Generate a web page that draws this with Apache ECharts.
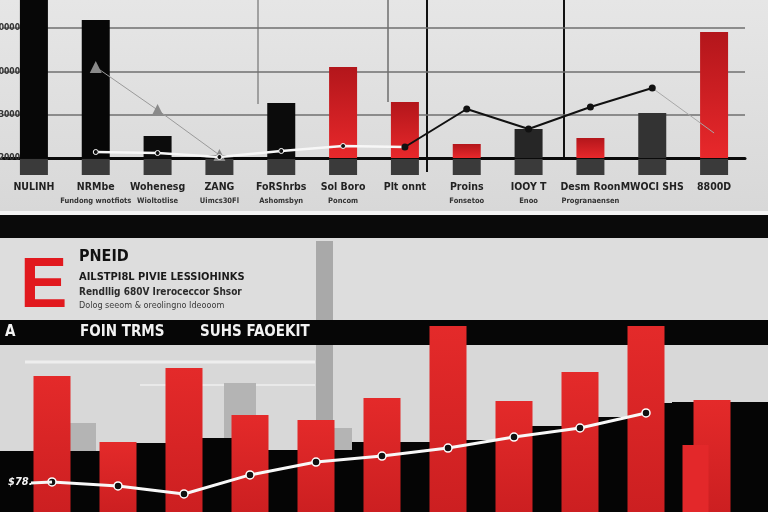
<!DOCTYPE html>
<html><head><meta charset="utf-8">
<script src="https://cdn.jsdelivr.net/npm/echarts@6/dist/echarts.min.js"></script>
<style>html,body{margin:0;padding:0;background:#dcdcdc}#c{width:768px;height:512px}</style>
</head><body><div id="c"></div>
<script>
// ---------- data ----------
const topCategories = ['NULINH','NRMbe','Wohenesg','ZANG','FoRShrbs','Sol Boro','Plt onnt','Proins','IOOY T','Desm Roon','MWOCI SHS','8800D'];
const topSubLabels  = ['', 'Fundong wnotfiots','Wioltotlise','Uimcs30Fl','Ashomsbyn','Poncom','','Fonsetoo','Enoo','Progranaensen','',''];
const topYTickLabels = ['.2000','3000','0000','0000'];
const topDarkBars = [3646, 3185, 508, 69, 1269, null, null, null, 669, null, 1038, null];
const topRedBars  = [null, null, null, null, null, 2100, 1292, 323, null, 462, null, 2908];
const topBaseBand = [1,1,1,1,1,1,1,1,1,1,1,1];
const topLine      = [null, 138, 115, 23, 162, 277, 254, 1131, 669, 1177, 1615, 577];
const topGhostLine = [null, 2100, 1108, 69, null, null, null, null, null, null, null, null];

const bottomCategories = ['C1','C2','C3','C4','C5','C6','C7','C8','C9','C10','C11'];
const bottomRedBars = [81.4, 41.9, 86.2, 58.1, 55.1, 68.3, 111.4, 66.5, 83.8, 111.4, 67.1];
const bottomHalfCategories = Array.from({length: 22}, (_, i) => 'H' + (i + 1));
const bottomShortRed = [null,null,null,null,null,null,null,null,null,null,null,null,null,null,null,null,null,null,null,null,40.1,null];
const bottomStepCategories = Array.from({length: 24}, (_, i) => 'S' + (i + 1));
const bottomBlackSteps = [36.5,36.5,36.5,36.5,41.3,41.3,44.3,44.3,37.1,37.1,37.1,41.9,41.9,41.9,43.1,43.1,51.5,51.5,56.9,56.9,65.3,65.9,65.9,65.9];
const bottomGhostBars  = [null,null,53.3,null,null,null,null,77.2,null,null,50.3,null,null,null,null,null,null,null,null,null,null,null,null,null];
const bottomLine = [18.0, 15.6, 10.8, 22.2, 29.9, 33.5, 38.3, 44.9, 50.3, 59.3, null];
const bottomStartLabel = '$78.';

const panelTitle = 'PNEID';
const panelLines = ['AILSTPI8L PIVIE LESSIOHINKS', 'Rendllig 680V Ireroceccor Shsor', 'Dolog seeom & oreolingno Ideooom'];
const bandTexts = ['A', 'FOIN TRMS', 'SUHS FAOEKIT'];

// ---------- helpers ----------
const seg = (arr, a, b) => arr.map((v, i) => (i >= a && i <= b ? v : null));
const NARROW = "'Liberation Sans Narrow','DejaVu Sans Condensed','Liberation Sans',sans-serif";
const redGrad = new echarts.graphic.LinearGradient(0, 0, 0, 1, [{offset: 0, color: '#b3161b'}, {offset: 1, color: '#e8282b'}]);
const redGrad2 = new echarts.graphic.LinearGradient(0, 0, 0, 1, [{offset: 0, color: '#e42a2a'}, {offset: 1, color: '#cc1f21'}]);
const darkShade = ['#070707','#070707','#0c0c0c','#303030','#0b0b0b','','','','#262626','','#333333',''];

const chart = echarts.init(document.getElementById('c'), null, {renderer: 'canvas'});

const bg = [
  {type:'rect', z:-10, shape:{x:0,y:0,width:768,height:211}, style:{fill: new echarts.graphic.LinearGradient(0,0,0,1,[{offset:0,color:'#e6e6e6'},{offset:1,color:'#d8d8d8'}])}},
  {type:'rect', z:-10, shape:{x:0,y:211,width:768,height:4}, style:{fill:'#f3f3f3'}},
  {type:'rect', z:-10, shape:{x:0,y:215,width:768,height:23}, style:{fill:'#0a0a0a'}},
  {type:'rect', z:-10, shape:{x:0,y:238,width:768,height:82}, style:{fill:'#dddddd'}},
  {type:'rect', z:-10, shape:{x:0,y:320,width:768,height:25}, style:{fill:'#060606'}},
  {type:'rect', z:-10, shape:{x:0,y:345,width:768,height:167}, style:{fill:'#d8d8d8'}},
  {type:'rect', z:-9, shape:{x:316,y:241,width:17,height:79}, style:{fill:'#a9a9a9'}},
  {type:'rect', z:-9, shape:{x:316,y:345,width:17,height:100}, style:{fill:'#a9a9a9'}},
  {type:'line', z:-9, shape:{x1:25,y1:362,x2:315,y2:362}, style:{stroke:'#eeeeee', lineWidth:3}},
  {type:'line', z:-9, shape:{x1:140,y1:385,x2:315,y2:385}, style:{stroke:'#e9e9e9', lineWidth:2}},
  {type:'line', z:-5, shape:{x1:258,y1:0,x2:258,y2:104}, style:{stroke:'#8a8a8a', lineWidth:1.5}},
  {type:'line', z:-5, shape:{x1:388,y1:0,x2:388,y2:102}, style:{stroke:'#6e6e6e', lineWidth:1.5}},
  {type:'line', z:-5, shape:{x1:427,y1:0,x2:427,y2:172}, style:{stroke:'#111', lineWidth:2}},
  {type:'line', z:-5, shape:{x1:564,y1:0,x2:564,y2:160}, style:{stroke:'#111', lineWidth:2}},
  {type:'text', z:10, x:20, y:252, style:{text:'E', fill:'#e1191e', font:"bold 71px 'Liberation Sans',Arial,sans-serif"}},
  {type:'text', z:10, x:79, y:249, style:{text:panelTitle, fill:'#111', font:"bold 16px " + NARROW}},
  {type:'text', z:10, x:79, y:272, style:{text:panelLines[0], fill:'#1a1a1a', font:"bold 11px " + NARROW}},
  {type:'text', z:10, x:79, y:287, style:{text:panelLines[1], fill:'#2a2a2a', font:"bold 10px " + NARROW}},
  {type:'text', z:10, x:79, y:301, style:{text:panelLines[2], fill:'#3a3a3a', font:"9px " + NARROW}},
  {type:'text', z:10, x:5, y:325, style:{text:bandTexts[0], fill:'#f2f2f2', font:"bold 15px " + NARROW}},
  {type:'text', z:10, x:80, y:325, style:{text:bandTexts[1], fill:'#f2f2f2', font:"bold 15px " + NARROW}},
  {type:'text', z:10, x:200, y:325, style:{text:bandTexts[2], fill:'#f2f2f2', font:"bold 15px " + NARROW}},
  {type:'text', z:10, x:8, y:477, style:{text:bottomStartLabel, fill:'#f5f5f5', font:"italic bold 11px " + NARROW}},
  {type:'line', z:9, shape:{x1:31,y1:483,x2:52,y2:482}, style:{stroke:'#f7f7f7', lineWidth:3}}
];

const option = {
  animation: false,
  backgroundColor: '#dcdcdc',
  graphic: bg,
  grid: [
    {left: 3, right: 23, top: 28, height: 130, outerBoundsMode: 'none', containLabel: false},
    {left: 3, right: 23, top: 159, height: 16, outerBoundsMode: 'none', containLabel: false},
    {left: 19, right: 23, top: 345, bottom: 0, outerBoundsMode: 'none', containLabel: false},
    {left: 0, right: 0, top: 345, bottom: 0, outerBoundsMode: 'none', containLabel: false}
  ],
  xAxis: [
    {type:'category', gridIndex:0, data: topCategories, axisLine:{show:true, lineStyle:{color:'#0a0a0a', width:3}}, axisTick:{show:false}, axisLabel:{show:false}},
    {type:'category', gridIndex:1, data: topCategories, axisLine:{show:false}, axisTick:{show:false},
      axisLabel:{margin: 5, interval: 0, hideOverlap: false,
        formatter: (v, i) => '{a|' + v + '}' + (topSubLabels[i] ? '\n{b|' + topSubLabels[i] + '}' : '\n{b| }'),
        rich: {a:{fontSize: 10.5, fontWeight:'bold', color:'#222', fontFamily: NARROW, lineHeight: 15},
               b:{fontSize: 7.5, fontWeight:'bold', color:'#333', fontFamily: NARROW, lineHeight: 13}}}},
    {type:'category', gridIndex:2, data: bottomCategories, show:false},
    {type:'category', gridIndex:2, data: bottomHalfCategories, show:false},
    {type:'category', gridIndex:3, data: bottomStepCategories, show:false}
  ],
  yAxis: [
    {type:'value', gridIndex:0, min:0, max:3000, interval:1000, axisLine:{show:false}, axisTick:{show:false},
      splitLine:{lineStyle:{color:'#6f6f6f', width:1.5}},
      axisLabel:{margin:-17, fontSize:8.5, fontWeight:'bold', color:'#333', fontFamily: NARROW,
        formatter: v => topYTickLabels[Math.round(v / 1000)]}},
    {type:'value', gridIndex:1, min:0, max:1, inverse:true, show:false},
    {type:'value', gridIndex:2, min:0, max:100, show:false},
    {type:'value', gridIndex:3, min:0, max:100, show:false}
  ],
  series: [
    {type:'bar', xAxisIndex:0, yAxisIndex:0, data: topDarkBars, barWidth: 28, barGap:'-100%', clip:false, z:2,
      itemStyle:{color: p => darkShade[p.dataIndex] || '#111'}},
    {type:'bar', xAxisIndex:0, yAxisIndex:0, data: topRedBars, barWidth: 28, barGap:'-100%', clip:false, z:2,
      itemStyle:{color: redGrad}},
    {type:'bar', xAxisIndex:1, yAxisIndex:1, data: topBaseBand, barWidth: 28, z:2, itemStyle:{color:'#3a3a3a'}},
    {type:'line', xAxisIndex:0, yAxisIndex:0, data: topGhostLine, clip:false, z:3, symbol:'triangle', symbolSize:12,
      lineStyle:{color:'#9a9a9a', width:1}, itemStyle:{color:'#8a8a8a'}},
    {type:'line', xAxisIndex:0, yAxisIndex:0, data: seg(topLine, 1, 6), z:4, symbol:'circle', symbolSize:5,
      lineStyle:{color:'#f7f7f7', width:2.5}, itemStyle:{color:'#111', borderColor:'#fff', borderWidth:1}},
    {type:'line', xAxisIndex:0, yAxisIndex:0, data: seg(topLine, 6, 10), z:4, symbol:'circle', symbolSize:7,
      lineStyle:{color:'#111', width:2}, itemStyle:{color:'#111'}},
    {type:'line', xAxisIndex:0, yAxisIndex:0, data: seg(topLine, 10, 11), z:3, symbol:'none',
      lineStyle:{color:'#a8a8a8', width:1}},

    {type:'bar', xAxisIndex:4, yAxisIndex:3, data: bottomGhostBars, barCategoryGap:'0%', barGap:'-100%', z:1, itemStyle:{color:'#b4b4b4'}},
    {type:'bar', xAxisIndex:4, yAxisIndex:3, data: bottomBlackSteps, barCategoryGap:'0%', barGap:'-100%', z:2, itemStyle:{color:'#050505'}},
    {type:'bar', xAxisIndex:2, yAxisIndex:2, data: bottomRedBars, barWidth: 37, clip:false, z:3, itemStyle:{color: redGrad2}},
    {type:'bar', xAxisIndex:3, yAxisIndex:2, data: bottomShortRed, barWidth: 26, z:3, itemStyle:{color:'#e3282a'}},
    {type:'line', xAxisIndex:2, yAxisIndex:2, data: bottomLine, z:5, symbol:'circle', symbolSize:8,
      lineStyle:{color:'#f8f8f8', width:3}, itemStyle:{color:'#111', borderColor:'#fff', borderWidth:1.5}}
  ]
};
chart.setOption(option);
</script></body></html>
